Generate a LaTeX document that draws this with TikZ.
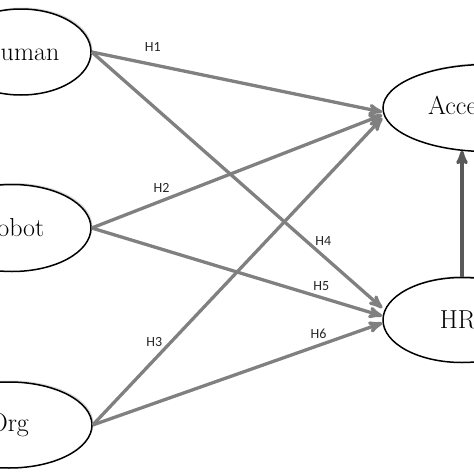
\documentclass[tikz,border=0pt]{standalone}
\usepackage{fontspec}
\newfontfamily\hypfont{Carlito}
\usetikzlibrary{arrows,shapes.geometric,shadows}

\begin{document}
\begin{tikzpicture}[x=1pt,y=-1pt,>=stealth',auto,semithick]

  \tikzstyle{latent}=[ellipse,draw,line width=1.5pt,fill=white,inner sep=0pt,
                      font=\fontsize{26}{30}\selectfont,
                      drop shadow={shadow xshift=1.5pt,shadow yshift=1.5pt,opacity=.3}]
  \tikzstyle{hyp}=[->,draw=gray,line width=3.3pt]
  \tikzstyle{lbl}=[font=\hypfont\fontsize{14}{16}\selectfont,inner sep=2pt,text=black!85]

  \useasboundingbox (0,0) rectangle (474,474);
  \clip (0,0) rectangle (474,474);

  \node[latent,minimum width=140pt,minimum height=86pt] (human) at (21,52)   {Human};
  \node[latent,minimum width=158pt,minimum height=87pt] (robot) at (12,228)  {Robot};
  \node[latent,minimum width=166pt,minimum height=86pt] (org)   at (9,425)   {Org};
  \node[latent,minimum width=208pt,minimum height=87pt] (acc)   at (487,108) {Acceptance};
  \node[latent,minimum width=158pt,minimum height=85pt] (hri)   at (462,320) {HRI};

  \path
  (human.east) edge [hyp] node [lbl,pos=.21,above=9pt] {H1} ([yshift=-4pt]acc.west)
  (robot.east) edge [hyp] node [lbl,pos=.24,above=5pt] {H2} ([yshift=-7pt]acc.west)
  (org.east)   edge [hyp] node [lbl,pos=.27,left=5pt]  {H3} ([yshift=-10pt]acc.west)
  (human.east) edge [hyp] node [lbl,pos=.74,right=5pt] {H4} ([yshift=12pt]hri.west)
  (robot.east) edge [hyp] node [lbl,pos=.79,above=3pt] {H5} ([yshift=4pt]hri.west)
  (org.east)   edge [hyp] node [lbl,pos=.78,above=3pt] {H6} ([yshift=-3pt]hri.west)
  ;

  \draw[hyp,draw=black!65,shorten >=-1.5pt] (hri.north) -- (hri.north |- acc.south);
\end{tikzpicture}
\end{document}
